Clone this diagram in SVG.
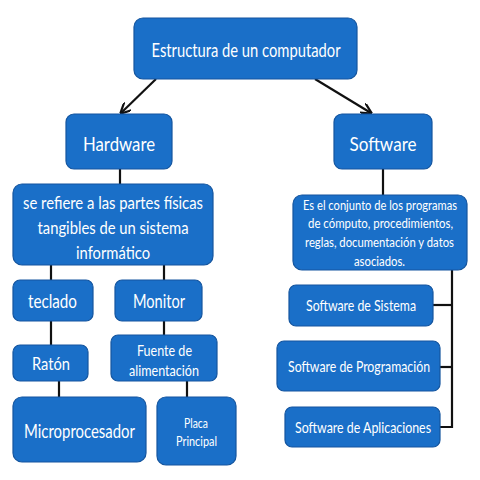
<svg xmlns="http://www.w3.org/2000/svg" width="480" height="480" viewBox="0 0 480 480">
<defs>
<style>
.box{fill:#1a6fc8;stroke:#14559f;stroke-width:1.2}
.t{fill:#ffffff;font-family:Lato,"Open Sans","Liberation Sans",sans-serif;text-anchor:middle;dominant-baseline:central}
.c{stroke:#111;stroke-width:2.2;fill:none}
</style>
<marker id="ah" viewBox="0 0 10 10" refX="9" refY="5" markerWidth="5" markerHeight="5" orient="auto">
<path d="M0,0 L10,5 L0,10" fill="none" stroke="#111" stroke-width="2"/>
</marker>
</defs>
<rect width="480" height="480" fill="#fff"/>
<g id="connectors">
<line class="c" x1="156" y1="79" x2="121" y2="113" marker-end="url(#ah)"/>
<line class="c" x1="315" y1="79" x2="371" y2="113" marker-end="url(#ah)"/>
<line class="c" x1="120" y1="169" x2="120" y2="184"/>
<line class="c" x1="51" y1="265" x2="51" y2="280"/>
<line class="c" x1="164" y1="265" x2="164" y2="280"/>
<line class="c" x1="51" y1="321" x2="51" y2="345"/>
<line class="c" x1="164" y1="321" x2="164" y2="335"/>
<line class="c" x1="59" y1="381" x2="59" y2="397"/>
<line class="c" x1="187" y1="381" x2="187" y2="397"/>
<line class="c" x1="383" y1="169" x2="383" y2="195"/>
<polyline class="c" points="452,270 452,427 440,427"/>
<line class="c" x1="433" y1="305" x2="452" y2="305"/>
<line class="c" x1="440" y1="367" x2="452" y2="367"/>
</g>
<g id="root"><rect class="box" x="134" y="18" width="223" height="61" rx="9"/>
<text class="t" x="246" y="49" font-size="19" textLength="189" lengthAdjust="spacingAndGlyphs">Estructura de un computador</text></g>
<g id="hardware"><rect class="box" x="66" y="114" width="106" height="55" rx="8"/>
<text class="t" x="119" y="143" font-size="20" textLength="72" lengthAdjust="spacingAndGlyphs">Hardware</text></g>
<g id="software"><rect class="box" x="334" y="114" width="98" height="55" rx="8"/>
<text class="t" x="383" y="143" font-size="20" textLength="67" lengthAdjust="spacingAndGlyphs">Software</text></g>
<g id="hw-desc"><rect class="box" x="13" y="184" width="200" height="81" rx="9"/>
<text class="t" font-size="18"><tspan x="113" y="202" textLength="180" lengthAdjust="spacingAndGlyphs">se refiere a las partes físicas</tspan><tspan x="113" y="227" textLength="151" lengthAdjust="spacingAndGlyphs">tangibles de un sistema</tspan><tspan x="113" y="252" textLength="74" lengthAdjust="spacingAndGlyphs">informático</tspan></text></g>
<g id="teclado"><rect class="box" x="13" y="280" width="80" height="41" rx="7"/>
<text class="t" x="52.5" y="301" font-size="18.5" textLength="49" lengthAdjust="spacingAndGlyphs">teclado</text></g>
<g id="monitor"><rect class="box" x="115" y="280" width="87" height="41" rx="7"/>
<text class="t" x="159" y="301" font-size="18.5" textLength="52" lengthAdjust="spacingAndGlyphs">Monitor</text></g>
<g id="raton"><rect class="box" x="13" y="345" width="75" height="36" rx="7"/>
<text class="t" x="51" y="363" font-size="18" textLength="38" lengthAdjust="spacingAndGlyphs">Ratón</text></g>
<g id="fuente"><rect class="box" x="111" y="335" width="106" height="46" rx="7"/>
<text class="t" font-size="15"><tspan x="164.5" y="350" textLength="55" lengthAdjust="spacingAndGlyphs">Fuente de</tspan><tspan x="164" y="370" textLength="70" lengthAdjust="spacingAndGlyphs">alimentación</tspan></text></g>
<g id="micro"><rect class="box" x="13" y="397" width="133" height="65" rx="9"/>
<text class="t" x="79.5" y="430" font-size="19" textLength="111" lengthAdjust="spacingAndGlyphs">Microprocesador</text></g>
<g id="placa"><rect class="box" x="157" y="397" width="79" height="68" rx="9"/>
<text class="t" font-size="13"><tspan x="196" y="423" textLength="24" lengthAdjust="spacingAndGlyphs">Placa</tspan><tspan x="196.5" y="441" textLength="41" lengthAdjust="spacingAndGlyphs">Principal</tspan></text></g>
<g id="sw-desc"><rect class="box" x="293" y="195" width="174" height="75" rx="9"/>
<text class="t" font-size="12.5"><tspan x="380" y="205" textLength="154" lengthAdjust="spacingAndGlyphs">Es el conjunto de los programas</tspan><tspan x="380.5" y="223" textLength="145" lengthAdjust="spacingAndGlyphs">de cómputo, procedimientos,</tspan><tspan x="379.5" y="242" textLength="149" lengthAdjust="spacingAndGlyphs">reglas, documentación y datos</tspan><tspan x="379.5" y="261" textLength="51" lengthAdjust="spacingAndGlyphs">asociados.</tspan></text></g>
<g id="sw-sistema"><rect class="box" x="289" y="285" width="144" height="41" rx="7"/>
<text class="t" x="361" y="305" font-size="15" textLength="110" lengthAdjust="spacingAndGlyphs">Software de Sistema</text></g>
<g id="sw-prog"><rect class="box" x="277" y="341" width="163" height="50" rx="7"/>
<text class="t" x="359" y="366" font-size="15" textLength="142" lengthAdjust="spacingAndGlyphs">Software de Programación</text></g>
<g id="sw-apps"><rect class="box" x="285" y="407" width="155" height="40" rx="7"/>
<text class="t" x="363" y="427" font-size="15" textLength="136" lengthAdjust="spacingAndGlyphs">Software de Aplicaciones</text></g>
</svg>
